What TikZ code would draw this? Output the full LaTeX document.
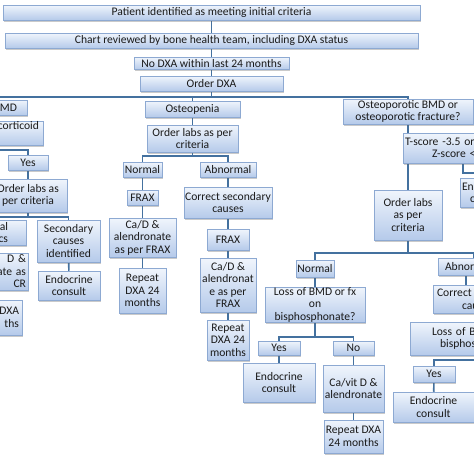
\documentclass[tikz,border=0pt]{standalone}
\usepackage{fontspec}
\setmainfont{Carlito}
\usetikzlibrary{shadows}
\pgfdeclarelayer{bg}
\pgfsetlayers{bg,main}
\definecolor{ln}{HTML}{44719F}
\definecolor{bd}{HTML}{8DA9D2}
\definecolor{ftop}{HTML}{F0F5FC}
\definecolor{fbot}{HTML}{B5CAEA}
\definecolor{tx}{HTML}{1A1A1A}
\tikzset{
  bx/.style={draw=bd, line width=0.5pt, top color=ftop, bottom color=fbot,
    drop shadow={shadow xshift=1.2pt, shadow yshift=-1.5pt, opacity=0.35, fill=black!60},
    inner sep=0pt, align=center, font=\fontsize{11.6}{12.5}\selectfont, text=tx},
  cn/.style={draw=ln, line width=1.6pt}
}
\newcommand{\mybox}[7][]{\node[bx,#1,minimum width={#5-#3},minimum height={#6-#4}] (#2) at ({(#3+#5)/2},{(#4+#6)/2}) {#7};}
\begin{document}
\begin{tikzpicture}[x=1pt,y=-1pt]
\useasboundingbox (0,0) rectangle (474,474);
\clip (0,0) rectangle (474,474);
% top trunk
\mybox{p1}{3}{5}{420}{20}{Patient identified as meeting initial criteria}
\mybox{p2}{5}{33}{418}{48}{Chart reviewed by bone health team, including DXA status}
\mybox{p3}{134}{57}{289}{69.5}{No DXA within last 24 months}
\mybox{p4}{140}{76}{283}{91}{Order DXA}
% left branch
\mybox[align=right,text width=47pt,inner xsep=10pt]{bmd}{-40}{100}{27}{115}{BMD}
\mybox[align=right,text width=85pt,inner xsep=4pt]{gc}{-50}{122}{43}{145}{corticoid\\\strut}
\mybox{yes1}{8}{155}{48}{170}{Yes}
\mybox{ol1}{-11}{179}{67}{212}{Order labs as\\per criteria}
\mybox[align=right,text width=30pt,inner xsep=18pt]{nl}{-40}{220}{26}{245}{al\\cs\hspace{1pt}}
\mybox[align=right,text width=64pt,inner xsep=2pt]{ca1}{-40}{253}{28}{290}{D \&\hspace{11pt}\\ate as\\CR\hspace{16pt}}
\mybox[align=right,text width=56pt,inner xsep=3pt]{rp1}{-40}{300}{22}{335}{DXA\\ths\hspace{4pt}}
\mybox{sec}{37}{220}{100}{262}{Secondary\\causes\\identified}
\mybox{end1}{38}{271}{100}{300}{Endocrine\\consult}
% middle branch
\mybox{ost}{145}{101}{240}{117}{Osteopenia}
\mybox{ol2}{147}{125}{238}{152}{Order labs as per\\criteria}
\mybox{nm2}{123}{162}{162}{177}{Normal}
\mybox{ab2}{200}{162}{256}{177}{Abnormal}
\mybox{fx1}{127}{190}{158}{205}{FRAX}
\mybox{cs2}{184}{187}{272}{218}{Correct secondary\\causes}
\mybox{ca2}{109}{218}{176}{257}{Ca/D \&\\alendronate\\as per FRAX}
\mybox{rp2}{119}{268}{166}{313}{Repeat\\DXA 24\\months}
\mybox{fx2}{207}{229}{249}{250}{FRAX}
\mybox{ca3}{200}{258}{256}{312}{Ca/D \&\\alendronat\\e as per\\FRAX}
\mybox{rp3}{207}{320}{249}{360}{Repeat\\DXA 24\\months}
% right branch
\mybox{op}{343}{99}{473}{124}{Osteoporotic BMD or\\osteoporotic fracture?}
\mybox[align=left,text width=133pt,inner xsep=2pt]{ts}{403}{133}{540}{163}{T-score -3.5 or\\\hspace*{27pt}Z-score <}
\mybox[align=left,text width=66pt,inner xsep=2pt]{en2}{460}{178}{530}{207}{Endocrine\\\hspace*{8pt}consult}
\mybox{ol3}{374}{190}{442}{240}{Order labs\\as per\\criteria}
\mybox{nm3}{296}{260}{334}{277}{Normal}
\mybox{lb1}{265}{287}{365}{322}{Loss of BMD or fx\\on\\bisphosphonate?}
\mybox{ys2}{258}{341}{300}{355}{Yes}
\mybox{no2}{333}{341}{374}{355}{No}
\mybox{en3}{243}{363}{315}{402}{Endocrine\\consult}
\mybox{cv}{323}{365}{384}{412}{Ca/vit D \&\\alendronate}
\mybox{rp4}{324}{420}{383}{453}{Repeat DXA\\24 months}
\mybox[align=left,text width=58pt,inner xsep=7pt]{ab3}{438}{258}{510}{275}{Abnormal}
\mybox[align=left,text width=99pt,inner xsep=4pt]{cs3}{433}{285}{540}{313}{Correct secondary\\\hspace*{25pt}causes}
\mybox[align=left,text width=126pt,inner xsep=22pt]{lb2}{410}{322}{580}{355}{Loss of BMD or fx on\\\hspace*{8pt}bisphosphonate?}
\mybox{ys3}{413}{366}{455}{382}{Yes}
\mybox{en4}{393}{392}{474}{422}{Endocrine\\consult}
% connectors
\begin{pgfonlayer}{bg}
\clip (0,0) rectangle (474,474);
\coordinate (bus1) at (211.5,97);
\coordinate (bus2) at (0,150);
\coordinate (bus3) at (0,217);
\coordinate (bus4) at (0,156);
\coordinate (bus5) at (0,253);
\coordinate (bus6) at (0,337);
\coordinate (bus7) at (0,360);
\draw[cn] (p1) -- (bus1);
\draw[cn] (bmd.north) -- (bmd.north |- bus1) -- (op.north |- bus1) -- (op.north);
\draw[cn] (ost.north |- bus1) -- (ost.north);
\draw[cn] (bmd.south) -- (bmd.south |- gc.north);
\draw[cn] (gc.south) -- (gc.south |- bus2) -- (yes1.north |- bus2) -- (yes1.north);
\draw[cn] (yes1) -- (ol1);
\draw[cn] (ol1.south) -- (ol1.south |- bus3);
\draw[cn] (nl.north) -- (nl.north |- bus3) -- (sec.north |- bus3) -- (sec.north);
\draw[cn] (sec) -- (end1);
\draw[cn] (ost) -- (ol2);
\draw[cn] (ol2.south) -- (ol2.south |- bus4);
\draw[cn] (nm2.north) -- (nm2.north |- bus4) -- (ab2.north |- bus4) -- (ab2.north);
\draw[cn] (nm2) -- (fx1);
\draw[cn] (fx1) -- (ca2);
\draw[cn] (ca2) -- (rp2);
\draw[cn] (ab2) -- (cs2);
\draw[cn] (cs2) -- (fx2);
\draw[cn] (fx2) -- (ca3);
\draw[cn] (ca3) -- (rp3);
\draw[cn] (op) -- (ol3);
\draw[cn] (463,163) -- ++(0,10) -| (en2.north);
\draw[cn] (ol3.south) -- (ol3.south |- bus5);
\draw[cn] (nm3.north) -- (nm3.north |- bus5) -- (ab3.north |- bus5) -- (ab3.north);
\draw[cn] (nm3) -- (lb1);
\draw[cn] (lb1.south) -- (lb1.south |- bus6);
\draw[cn] (ys2.north) -- (ys2.north |- bus6) -- (no2.north |- bus6) -- (no2.north);
\draw[cn] (ys2) -- (en3);
\draw[cn] (no2) -- (cv);
\draw[cn] (cv) -- (rp4);
\draw[cn] (466,275) -- (466,285);
\draw[cn] (lb2.south) -- (lb2.south |- bus7) -- (ys3.north |- bus7) -- (ys3.north);
\draw[cn] (ys3) -- (en4);
\end{pgfonlayer}
\end{tikzpicture}
\end{document}
